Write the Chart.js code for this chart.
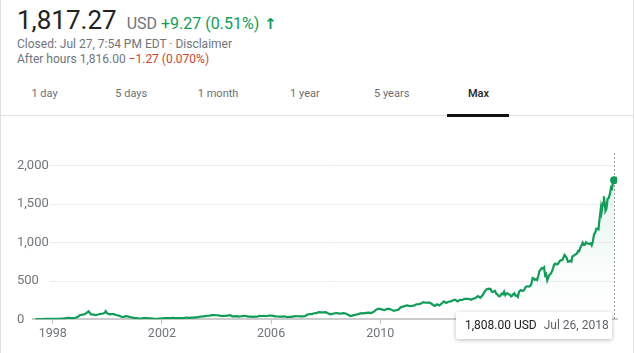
<!DOCTYPE html>
<html lang="en">
<head>
    <meta charset="UTF-8">
    <title>Stock chart - Max</title>
    <script src="https://cdn.jsdelivr.net/npm/chart.js"></script>
    <style>
        html, body {
            margin: 0;
            padding: 0;
            background: #fff;
        }
        body {
            width: 634px;
            height: 353px;
            position: relative;
            overflow: hidden;
            font-family: Roboto, Arial, sans-serif;
            color: #222;
        }
        .card {
            position: absolute;
            left: 0; top: 0;
            width: 632px; height: 353px;
            border-left: 1px solid #e0e0e0;
            border-right: 1px solid #e0e0e0;
        }
        .price-row {
            position: absolute;
            left: 17px; top: 5px;
            height: 30px;
            line-height: 30px;
            display: flex;
            align-items: baseline;
            white-space: nowrap;
        }
        .price { font-size: 26px; color: #222; }
        .currency { font-size: 16px; color: #70757a; margin-left: 10px; }
        .change { font-size: 16px; color: #0f9d58; margin-left: 4px; }
        .arrow { font-size: 15px; color: #0f9d58; font-weight: bold; margin-left: 5px; font-family: "DejaVu Sans", sans-serif; }
        .info {
            position: absolute;
            left: 17px;
            font-size: 12px;
            line-height: 16px;
            color: #70757a;
            white-space: nowrap;
        }
        .down { color: #d23f31; }
        .tabs {
            position: absolute;
            left: 1px; top: 87px;
            width: 632px;
            height: 14px;
        }
        .tab {
            position: absolute;
            width: 87px;
            text-align: center;
            font-size: 11px;
            line-height: 14px;
            color: #6b6f73;
        }
        .tab.active { color: #222; font-weight: 500; }
        .tab-rule {
            position: absolute;
            left: 0; top: 115px;
            width: 634px; height: 1px;
            background: #e0e0e0;
        }
        .tab-underline {
            position: absolute;
            left: 447px; top: 114px;
            width: 62px; height: 3px;
            background: #111;
        }
        #chartBox {
            position: absolute;
            left: 0; top: 140px;
            width: 634px; height: 213px;
        }
        .tip {
            position: absolute;
            left: 456px; top: 312px;
            width: 147px; height: 27px;
            padding-left: 9px;
            line-height: 27px;
            font-size: 12px;
            background: #fff;
            border-radius: 2px;
            box-shadow: 0 1px 4px rgba(0, 0, 0, 0.28);
            white-space: nowrap;
        }
        .tip .val { color: #202124; }
        .tip .date { color: #5f6368; margin-left: 4px; }
    </style>
</head>
<body>
    <div class="card"></div>

    <div class="price-row">
        <span class="price">1,817.27</span>
        <span class="currency">USD</span>
        <span class="change">+9.27 (0.51%)</span>
        <span class="arrow">↑</span>
    </div>
    <div class="info" style="top: 36px;">Closed: Jul 27, 7:54 PM EDT · Disclaimer</div>
    <div class="info" style="top: 51px;">After hours 1,816.00 <span class="down">−1.27 (0.070%)</span></div>

    <div class="tabs" id="tabs"></div>
    <div class="tab-rule"></div>
    <div class="tab-underline"></div>

    <div id="chartBox"><canvas id="chart" width="634" height="213"></canvas></div>

    <div class="tip"><span class="val">1,808.00 USD</span> <span class="date">Jul 26, 2018</span></div>

    <script>
        // range tabs
        const tabNames = ['1 day', '5 days', '1 month', '1 year', '5 years', 'Max'];
        const activeTab = 'Max';

        // axis ticks
        const yTicks = [0, 500, 1000, 1500, 2000];
        const xTicks = [1998, 2002, 2006, 2010, 2014, 2018];

        // closing prices (USD)
        const dates = [
            '1997-05-15', '1997-05-30', '1997-06-30', '1997-07-31', '1997-08-29', '1997-09-30', '1997-10-31', '1997-11-28', '1997-12-31',
            '1998-01-30', '1998-02-27', '1998-03-31', '1998-04-30', '1998-05-29', '1998-06-30', '1998-07-31', '1998-08-31', '1998-09-30', '1998-10-30', '1998-11-30', '1998-12-31',
            '1999-01-29', '1999-02-26', '1999-03-31', '1999-04-26', '1999-05-28', '1999-06-30', '1999-07-30', '1999-08-31', '1999-09-30', '1999-10-29', '1999-11-30', '1999-12-10', '1999-12-31',
            '2000-01-31', '2000-02-29', '2000-03-31', '2000-04-28', '2000-05-31', '2000-06-30', '2000-07-31', '2000-08-31', '2000-09-29', '2000-10-31', '2000-11-30', '2000-12-29',
            '2001-01-31', '2001-02-28', '2001-03-30', '2001-04-30', '2001-05-31', '2001-06-29', '2001-07-31', '2001-08-31', '2001-09-28', '2001-10-31', '2001-11-30', '2001-12-31',
            '2002-01-31', '2002-02-28', '2002-03-28', '2002-04-30', '2002-05-31', '2002-06-28', '2002-07-31', '2002-08-30', '2002-09-30', '2002-10-31', '2002-11-29', '2002-12-31',
            '2003-01-31', '2003-02-28', '2003-03-31', '2003-04-30', '2003-05-30', '2003-06-30', '2003-07-31', '2003-08-29', '2003-09-30', '2003-10-31', '2003-11-28', '2003-12-31',
            '2004-01-30', '2004-02-27', '2004-03-31', '2004-04-30', '2004-05-28', '2004-06-30', '2004-07-30', '2004-08-31', '2004-09-30', '2004-10-29', '2004-11-30', '2004-12-31',
            '2005-01-31', '2005-02-28', '2005-03-31', '2005-04-29', '2005-05-31', '2005-06-30', '2005-07-29', '2005-08-31', '2005-09-30', '2005-10-31', '2005-11-30', '2005-12-30',
            '2006-01-31', '2006-02-28', '2006-03-31', '2006-04-28', '2006-05-31', '2006-06-30', '2006-07-31', '2006-08-31', '2006-09-29', '2006-10-31', '2006-11-30', '2006-12-29',
            '2007-01-31', '2007-02-28', '2007-03-30', '2007-04-30', '2007-05-31', '2007-06-29', '2007-07-31', '2007-08-31', '2007-09-28', '2007-10-31', '2007-11-30', '2007-12-31',
            '2008-01-31', '2008-02-29', '2008-03-31', '2008-04-30', '2008-05-30', '2008-06-30', '2008-07-31', '2008-08-29', '2008-09-30', '2008-10-31', '2008-11-28', '2008-12-31',
            '2009-01-30', '2009-02-27', '2009-03-31', '2009-04-30', '2009-05-29', '2009-06-30', '2009-07-31', '2009-08-31', '2009-09-30', '2009-10-30', '2009-11-30', '2009-12-31',
            '2010-01-29', '2010-02-26', '2010-03-31', '2010-04-30', '2010-05-28', '2010-06-30', '2010-07-30', '2010-08-31', '2010-09-30', '2010-10-29', '2010-11-30', '2010-12-31',
            '2011-01-31', '2011-02-28', '2011-03-31', '2011-04-29', '2011-05-31', '2011-06-30', '2011-07-29', '2011-08-31', '2011-09-30', '2011-10-31', '2011-11-30', '2011-12-30',
            '2012-01-31', '2012-02-29', '2012-03-30', '2012-04-30', '2012-05-31', '2012-06-29', '2012-07-31', '2012-08-31', '2012-09-28', '2012-10-31', '2012-11-30', '2012-12-31',
            '2013-01-31', '2013-02-28', '2013-03-28', '2013-04-30', '2013-05-31', '2013-06-28', '2013-07-31', '2013-08-30', '2013-09-30', '2013-10-31', '2013-11-29', '2013-12-31',
            '2014-01-15', '2014-01-31', '2014-02-14', '2014-02-28', '2014-03-14', '2014-03-31', '2014-04-15', '2014-04-30', '2014-05-15', '2014-05-30', '2014-06-13', '2014-06-30',
            '2014-07-15', '2014-07-31', '2014-08-15', '2014-08-29', '2014-09-15', '2014-09-30', '2014-10-15', '2014-10-31', '2014-11-14', '2014-11-28', '2014-12-15', '2014-12-31',
            '2015-01-15', '2015-01-30', '2015-02-13', '2015-02-27', '2015-03-13', '2015-03-31', '2015-04-15', '2015-04-30', '2015-05-15', '2015-05-29', '2015-06-15', '2015-06-30',
            '2015-07-15', '2015-07-31', '2015-08-14', '2015-08-31', '2015-09-15', '2015-09-30', '2015-10-15', '2015-10-30', '2015-11-13', '2015-11-30', '2015-12-15', '2015-12-31',
            '2016-01-15', '2016-01-29', '2016-02-12', '2016-02-29', '2016-03-15', '2016-03-31', '2016-04-15', '2016-04-29', '2016-05-13', '2016-05-31', '2016-06-15', '2016-06-30',
            '2016-07-15', '2016-07-29', '2016-08-15', '2016-08-31', '2016-09-15', '2016-09-30', '2016-10-14', '2016-10-31', '2016-11-15', '2016-11-30', '2016-12-15', '2016-12-30',
            '2017-01-13', '2017-01-31', '2017-02-15', '2017-02-28', '2017-03-15', '2017-03-31', '2017-04-14', '2017-04-28', '2017-05-15', '2017-05-31', '2017-06-15', '2017-06-30',
            '2017-07-14', '2017-07-31', '2017-08-15', '2017-08-31', '2017-09-15', '2017-09-29', '2017-10-13', '2017-10-31', '2017-11-15', '2017-11-30', '2017-12-15', '2017-12-29',
            '2018-01-12', '2018-01-31', '2018-02-08', '2018-02-28', '2018-03-12', '2018-03-29', '2018-04-02', '2018-04-13', '2018-04-30', '2018-05-15', '2018-05-31', '2018-06-15',
            '2018-06-29', '2018-07-13', '2018-07-20', '2018-07-26'
        ];
        const closes = [
            1.7, 1.6, 1.6, 2.5, 2.6, 4.3, 4.3, 4.9, 5.0,
            4.8, 6.5, 7.0, 8.3, 8.3, 14.5, 20.0, 15.0, 16.5, 20.0, 31.0, 53.5,
            60, 62, 83, 103, 63, 62, 55, 62, 70, 72, 85, 106, 76,
            64, 68, 67, 55, 48, 36, 30, 41, 38, 29, 24, 15.6,
            17, 10, 10, 15.8, 16.7, 14.2, 12.5, 8.9, 6.0, 7.0, 10.4, 10.8,
            14.2, 14.1, 14.3, 16.7, 18.2, 16.3, 14.4, 15.0, 15.9, 19.4, 23.4, 18.9,
            21.9, 22.0, 26.0, 28.7, 35.9, 36.3, 41.6, 46.3, 48.4, 54.4, 54.0, 52.6,
            50.4, 43.0, 43.3, 43.6, 48.5, 54.4, 38.9, 38.1, 40.9, 34.1, 39.7, 44.3,
            43.2, 34.9, 34.3, 32.4, 35.5, 33.1, 45.2, 42.7, 45.3, 39.9, 48.5, 47.2,
            44.8, 37.4, 36.5, 35.2, 34.6, 38.7, 27.0, 30.8, 32.1, 38.1, 40.3, 39.5,
            37.7, 39.1, 39.8, 61.3, 69.1, 68.4, 78.5, 79.9, 93.2, 89.2, 90.6, 92.6,
            77.7, 64.5, 71.3, 78.6, 81.6, 73.3, 76.3, 80.8, 72.8, 57.2, 42.7, 51.3,
            58.8, 64.8, 73.4, 80.5, 77.9, 83.7, 85.8, 81.2, 93.4, 118.8, 135.9, 134.5,
            125.4, 118.4, 135.8, 137.1, 125.5, 109.3, 118.0, 124.8, 157.1, 165.2, 175.4, 180.0,
            169.6, 173.3, 180.1, 195.8, 196.7, 204.5, 222.5, 215.2, 216.2, 213.5, 192.3, 173.1,
            194.4, 179.7, 202.5, 231.9, 212.9, 228.4, 233.3, 248.3, 254.3, 232.9, 252.1, 250.9,
            265.5, 264.3, 266.5, 253.8, 269.2, 277.7, 301.2, 280.9, 312.6, 364.0, 393.6, 398.8,
            395, 358, 357, 362, 370, 336, 324, 304, 297, 312, 333, 325,
            358, 313, 334, 339, 323, 322, 298, 305, 326, 339, 306, 310,
            290, 354, 374, 380, 370, 372, 390, 422, 426, 429, 426, 434,
            460, 536, 531, 512, 522, 512, 563, 626, 642, 665, 658, 676,
            570, 587, 507, 552, 579, 594, 625, 660, 710, 723, 715, 716,
            735, 759, 770, 769, 800, 837, 822, 790, 746, 751, 760, 750,
            817, 824, 837, 845, 852, 887, 885, 925, 960, 995, 965, 968,
            1001, 988, 983, 981, 987, 961, 1003, 1105, 1126, 1177, 1180, 1170,
            1306, 1451, 1390, 1512, 1598, 1447, 1410, 1430, 1566, 1575, 1630, 1715,
            1700, 1813, 1813, 1808
        ];

        // build tabs
        const tabsEl = document.getElementById('tabs');
        tabNames.forEach((name, i) => {
            const t = document.createElement('div');
            t.className = 'tab' + (name === activeTab ? ' active' : '');
            t.style.left = (i * 86.8) + 'px';
            t.textContent = name;
            tabsEl.appendChild(t);
        });

        function toYear(s) {
            const [y, m, d] = s.split('-').map(Number);
            const start = Date.UTC(y, 0, 1);
            const day = (Date.UTC(y, m - 1, d) - start) / 86400000;
            return y + day / 365;
        }

        const points = dates.map((d, i) => ({ x: toYear(d), y: closes[i] }));
        const lastIndex = points.length - 1;
        const green = '#0f9d58';

        // light grid lines and the dotted marker line
        const guides = {
            id: 'guides',
            beforeDatasetsDraw(chart) {
                const { ctx, chartArea, scales } = chart;
                ctx.save();
                ctx.strokeStyle = '#ededed';
                ctx.lineWidth = 1;
                yTicks.forEach(v => {
                    if (v === 0) return;
                    const py = Math.round(scales.y.getPixelForValue(v)) + 0.5;
                    ctx.beginPath();
                    ctx.moveTo(50, py);
                    ctx.lineTo(chartArea.right - 4, py);
                    ctx.stroke();
                });
                const last = chart.getDatasetMeta(0).data[lastIndex];
                const px = Math.round(last.x) + 0.5;
                ctx.strokeStyle = '#9e9e9e';
                ctx.setLineDash([2, 2]);
                ctx.beginPath();
                ctx.moveTo(px, chartArea.top + 3);
                ctx.lineTo(px, chartArea.bottom);
                ctx.stroke();
                ctx.restore();
            }
        };

        new Chart(document.getElementById('chart'), {
            type: 'line',
            data: {
                datasets: [{
                    data: points,
                    borderColor: green,
                    borderWidth: 2.2,
                    tension: 0,
                    fill: 'origin',
                    backgroundColor(ctx) {
                        const area = ctx.chart.chartArea;
                        if (!area) return 'rgba(15,157,88,0)';
                        const g = ctx.chart.ctx.createLinearGradient(0, area.top, 0, area.bottom);
                        g.addColorStop(0, 'rgba(15,157,88,0.14)');
                        g.addColorStop(0.75, 'rgba(15,157,88,0.02)');
                        g.addColorStop(1, 'rgba(15,157,88,0)');
                        return g;
                    },
                    pointRadius: ctx => ctx.dataIndex === lastIndex ? 4 : 0,
                    pointHoverRadius: ctx => ctx.dataIndex === lastIndex ? 4 : 0,
                    pointBackgroundColor: green,
                    pointBorderWidth: 0
                }]
            },
            options: {
                responsive: false,
                devicePixelRatio: 1,
                animation: false,
                events: [],
                layout: { padding: { left: 33, right: 17, top: 10, bottom: 0 } },
                plugins: {
                    legend: { display: false },
                    tooltip: { enabled: false }
                },
                scales: {
                    x: {
                        type: 'linear',
                        min: 1997.278,
                        max: 2018.67,
                        afterBuildTicks: axis => { axis.ticks = xTicks.map(v => ({ value: v })); },
                        afterFit: axis => { axis.height = 33.7; },
                        grid: {
                            drawOnChartArea: false,
                            drawTicks: true,
                            tickLength: 5,
                            color: '#c4c4c4'
                        },
                        border: { display: true, color: '#cccccc', width: 2 },
                        ticks: {
                            padding: 2,
                            color: '#70757a',
                            font: { family: 'Roboto', size: 12.5 },
                            maxRotation: 0,
                            autoSkip: false,
                            callback: v => String(v)
                        }
                    },
                    y: {
                        min: 0,
                        max: 2200,
                        afterBuildTicks: axis => { axis.ticks = yTicks.map(v => ({ value: v })); },
                        afterFit: axis => { axis.width = 0; },
                        grid: { display: false },
                        border: { display: false },
                        ticks: {
                            mirror: true,
                            crossAlign: 'near',
                            padding: -16,
                            color: '#70757a',
                            font: { family: 'Roboto', size: 13 },
                            callback: v => v.toLocaleString('en-US')
                        }
                    }
                }
            },
            plugins: [guides]
        });
    </script>
</body>
</html>
